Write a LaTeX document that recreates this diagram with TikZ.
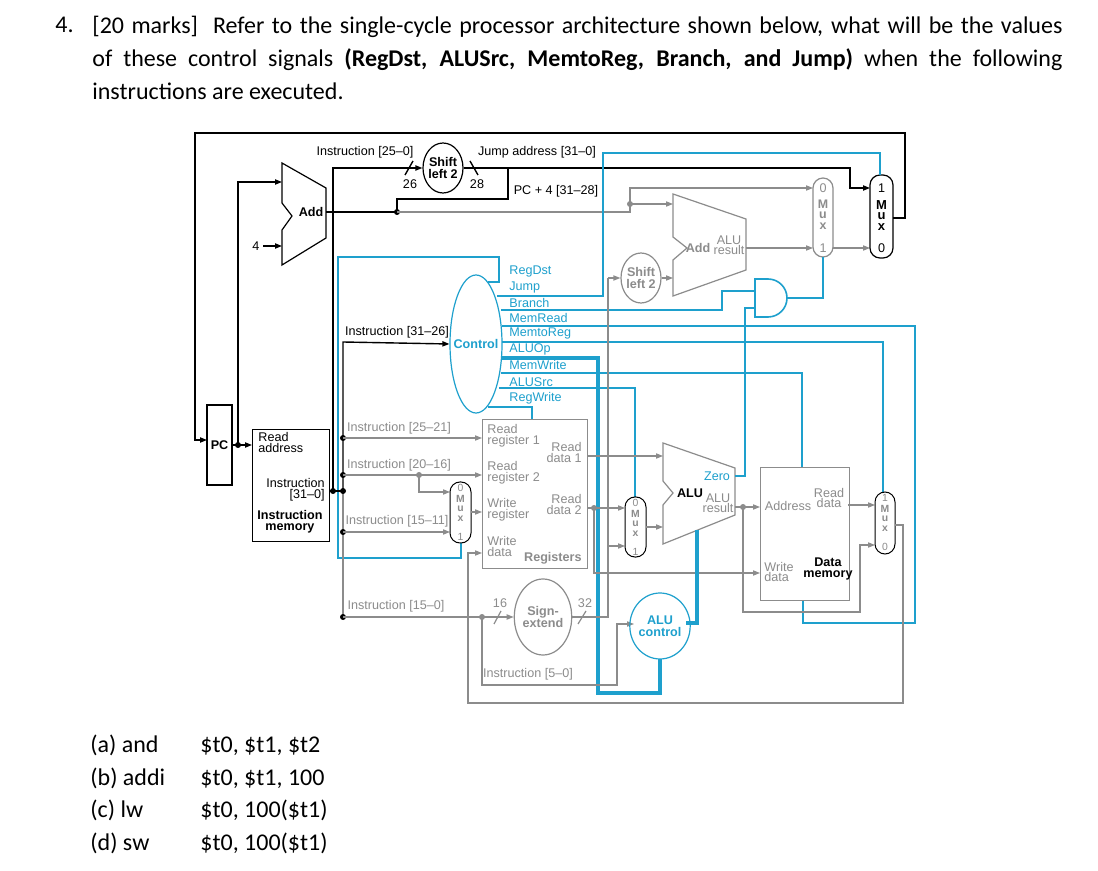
\documentclass[tikz,border=0pt]{standalone}
\usepackage{fontspec}
\setmainfont{Liberation Sans}
\newfontfamily\calib{Carlito}
\usetikzlibrary{arrows.meta,shapes.geometric}
\definecolor{cy}{RGB}{30,160,205}
\definecolor{gy}{RGB}{140,140,140}
\tikzset{
 every node/.style={inner sep=0pt,font=\fontsize{6.3}{7.2}\selectfont},
 ar/.style={-{Triangle[length=3.5pt,width=2.6pt]}},
 bk/.style={draw=black,line width=0.7pt},
 g/.style={draw=gy,line width=0.6pt},
 c/.style={draw=cy,line width=0.8pt},
 ct/.style={draw=cy,line width=1.6pt},
 dot/.style={circle,fill,minimum size=3pt},
 lg/.style={text=gy},
 lc/.style={text=cy},
 lb/.style={font=\fontsize{6.3}{7.2}\selectfont\bfseries},
 ms/.style={font=\fontsize{5.2}{5.5}\selectfont},
 mux/.style={rounded corners=5pt},
 q/.style={font=\calib\fontsize{12}{16.5}\selectfont,anchor=base west},
}
% mux letters: x, y top label, y of M, bottom y, top label, bottom label, style, step, letter size
\newcommand\muxtxt[9]{%
 \node[#7] at (#1,#2) {#5};
 \node[#7,font=\fontsize{#9}{#9}\selectfont\bfseries] at (#1,#3) {M};
 \node[#7,font=\fontsize{#9}{#9}\selectfont\bfseries] at (#1,#3+#8) {u};
 \node[#7,font=\fontsize{#9}{#9}\selectfont\bfseries] at (#1,#3+2*#8) {x};
 \node[#7] at (#1,#4) {#6};}
\begin{document}
\begin{tikzpicture}[x=0.5pt,y=-0.5pt]
\useasboundingbox[fill=white] (0,0) rectangle (1098,871);
% ---- question text
\node[q] (n4) at (55,33) {4.};
\node[q,text width=485pt,align=justify,anchor=north west] (qt) at (92,16)
 {[20 marks]\ \ Refer to the single-cycle processor architecture shown below, what will be the values\linebreak
 of these control signals \textbf{(RegDst, ALUSrc, MemtoReg, Branch, and Jump)} when the following\linebreak
 instructions are executed.};
\foreach \a/\b/\y in {(a) and/{\$t0, \$t1, \$t2}/752,(b) addi/{\$t0, \$t1, 100}/785,(c) lw/{\$t0, 100(\$t1)}/817,(d) sw/{\$t0, 100(\$t1)}/850}{
 \node[q] at (90,\y) {\a}; \node[q] at (200,\y) {\b};}
% ---- PC loop
\draw[bk,ar] (893,218) -- (905,218) -- (905,133) -- (195,133) -- (195,440) -- (207,440);
\node[draw=black,line width=0.6pt,minimum width=12.5pt,minimum height=40pt] (pc) at (219.5,445) {};
\node[lb] at (219.5,445) {PC};
\draw[bk,ar] (232,445) -- (252,445);
\draw[bk,ar] (238,445) -- (238,182) -- (282,182);
\node[dot] at (238,445) {};
% instruction memory
\node[draw=black,line width=0.6pt,minimum width=38.5pt,minimum height=56pt,anchor=north west] (im) at (252,429) {};
\node[anchor=north west,align=left] at (258,432) {Read\\[-1.5pt]address};
\node[anchor=north east,align=right] at (325,478) {Instruction\\[-1.5pt][31--0]};
\node[anchor=north,align=center,lb] at (290,510) {Instruction\\[-1.5pt]memory};
% add (PC+4)
\draw[bk,line width=0.6pt] (282,163)--(326,188)--(326,238)--(282,265)--(282,230)--(292,216)--(282,203)--cycle;
\node[lb] (add1) at (311,212) {Add};
\node (four) at (256,246) {4};
\draw[bk,ar] (263,246) -- (282,246);
\draw[bk] (326,212) -- (397,212);
\node[dot] at (397,212) {};
\draw[bk] (397,212) -- (397,199) -- (508,199) -- (508,168);
\draw[g] (397,212) -- (630,212) -- (630,204);
\node[dot,fill=gy] at (630,204) {};
\draw[g,ar] (630,204) -- (673,204);
\draw[g,ar] (630,204) -- (630,188) -- (813,188);
% top shift left 2
\node[ellipse,draw=black,line width=0.6pt,minimum width=20pt,minimum height=25pt,inner sep=-1pt,align=center,lb] (sl1) at (443,168) {Shift\\[-1pt]left 2};
\draw[bk,ar] (333,491) -- (333,168) -- (sl1.west);
\draw[bk,ar] (sl1.east) -- (850,168) -- (850,188) -- (870,188);
\draw[bk] (405,175)--(413,161) (470,161)--(478,175);
\node at (410,184) {26}; \node at (477,184) {28};
\node at (365,152) {Instruction [25--0]};
\node at (537,152) {Jump address [31--0]};
\node at (556,191) {PC + 4 [31--28]};
% branch adder
\draw[g] (673,194)--(746,219)--(746,270)--(673,296)--(673,260)--(687,248)--(673,237)--cycle;
\node[lb,text=gy] at (698,248) {Add};
\node[lg,align=center] at (729,245) {ALU\\[-2pt]result};
\draw[g,ar] (746,248) -- (813,248);
\node[ellipse,draw=gy,line width=0.6pt,minimum width=20pt,minimum height=25pt,inner sep=-1pt,align=center,lb,text=gy] (sl2) at (641,278) {Shift\\[-1pt]left 2};
\draw[g,ar] (sl2.east) -- (673,278);
% mux A (branch)
\draw[g,mux] (813,178) rectangle (833,257);
\muxtxt{823}{188}{204}{248}{0}{1}{lg}{11}{6.2}
\draw[g,ar] (833,248) -- (870,248);
% mux B (jump)
\draw[bk,mux,line width=0.6pt] (870,175) rectangle (893,258);
\muxtxt{881.5}{188}{205}{248}{1}{0}{}{11}{6.5}
% control
\node[ellipse,draw=cy,line width=0.6pt,minimum width=26pt,minimum height=69pt] (ctl) at (476,344) {};
\node[lb,lc] at (476,344) {Control};
\draw[bk,ar] (343,491) -- (343,342) -- (ctl.west);
\node at (397,332) {Instruction [31--26]};
\foreach \t/\y in {RegDst/271,Jump/287,Branch/303,MemRead/318,MemtoReg/333,ALUOp/349,MemWrite/365,ALUSrc/382,RegWrite/398}
 \node[lc,anchor=west] at (509,\y) {\t};
% control lines
\draw[c] (488,282) -- (499,282) -- (499,257) -- (338,257) -- (338,558) -- (461,558) -- (461,543);
\draw[c] (497,296) -- (603,296) -- (603,153) -- (880,153) -- (880,175);
\draw[c] (501,310) -- (722,310) -- (722,291) -- (755,291);
\draw[c] (502,326) -- (915,326) -- (915,623) -- (803,623) -- (803,600);
\draw[c] (502,342) -- (883,342) -- (883,493);
\draw[ct] (502,358) -- (598,358) -- (598,693) -- (660,693) -- (660,659);
\draw[c] (501,373) -- (802,373) -- (802,467);
\draw[c] (499,388) -- (635,388) -- (635,497);
\draw[c] (488,407) -- (532,407) -- (532,419);
% AND gate
\draw[c] (755,279) -- (768,279) arc[start angle=90,end angle=-90,radius=9.5pt] -- (755,317) -- cycle;
\draw[c] (787,298) -- (823,298) -- (823,257);
% registers
\node[draw=gy,line width=0.6pt,minimum width=52.5pt,minimum height=74.5pt,anchor=north west] (reg) at (482,419) {};
\node[lg,anchor=north west,align=left] at (487,424) {Read\\[-1.5pt]register 1};
\node[lg,anchor=north west,align=left] at (487,461) {Read\\[-1.5pt]register 2};
\node[lg,anchor=north west,align=left] at (487,498) {Write\\[-1.5pt]register};
\node[lg,anchor=north west,align=left] at (487,536) {Write\\[-1.5pt]data};
\node[lg,anchor=north east,align=right] at (582,442) {Read\\[-1.5pt]data 1};
\node[lg,anchor=north east,align=right] at (582,494) {Read\\[-1.5pt]data 2};
\node[lb,text=gy,anchor=north east] at (582,552) {Registers};
% instruction fields
\draw[g] (343,491) -- (343,617);
\foreach \y in {438,475,532,617} \node[dot] at (343,\y) {};
\node[dot] at (333,491) {}; \node[dot] at (343,491) {};
\draw[bk] (329,491) -- (343,491);
\draw[g,ar] (343,438) -- (482,438);
\draw[g,ar] (343,475) -- (482,475);
\draw[g,ar] (419,475) -- (419,492) -- (450,492);
\node[dot,fill=gy] at (419,475) {};
\draw[g,ar] (343,532) -- (450,532);
\node[lg] at (399,428) {Instruction [25--21]};
\node[lg] at (399,465) {Instruction [20--16]};
\node[lg] at (397,521) {Instruction [15--11]};
\node[lg] at (396,606) {Instruction [15--0]};
% mux D
\draw[bk,mux,line width=0.5pt] (450,482) rectangle (471,543);
\muxtxt{460.5}{488}{499}{537}{0}{1}{lg,ms}{10}{5.2}
\draw[g,ar] (471,512) -- (482,512);
% sign extend
\node[ellipse,draw=gy,line width=0.6pt,minimum width=24pt,minimum height=38pt,align=center,lb,text=gy] (se) at (543,617) {Sign-\\[-1pt]extend};
\draw[g,ar] (343,617) -- (se.west);
\node[dot,fill=gy] at (482,617) {};
\draw[g] (494,624)--(501,611) (578,624)--(586,611);
\node[lg] at (500,603) {16}; \node[lg] at (585,603) {32};
\draw[g] (se.east) -- (608,617) -- (608,278);
\draw[g,ar] (608,278) -- (sl2.west);
\draw[g,ar] (608,546) -- (625,546);
\draw[g,ar] (482,617) -- (482,685) -- (617,685) -- (617,624) -- (634,624);
\node[lg] at (528,674) {Instruction [5--0]};
% ALU src mux
\draw[bk,mux,line width=0.5pt] (625,497) rectangle (646,557);
\muxtxt{635.5}{503}{514}{552}{0}{1}{lg,ms}{10}{5.2}
\draw[g,ar] (587,456) -- (663,456);
\draw[g,ar] (587,508) -- (625,508);
\node[dot,fill=gy] at (594,508) {};
\draw[g,ar] (594,508) -- (594,573) -- (760,573);
\draw[g,ar] (646,527) -- (663,527);
% ALU
\draw[g] (663,443)--(735,468)--(735,515)--(663,544)--(663,505)--(673,493)--(663,481)--cycle;
\node[lb] at (690,493) {ALU};
\node[lc] at (717,476) {Zero};
\node[lg,align=center] at (718,503) {ALU\\[-2pt]result};
\draw[c] (735,476) -- (745,476) -- (745,308) -- (755,308);
\draw[g,ar] (735,507) -- (760,507);
\node[dot,fill=gy] at (743,507) {};
\draw[g,ar] (743,507) -- (743,612) -- (860,612) -- (860,545) -- (875,545);
% ALU control
\node[ellipse,draw=cy,line width=0.6pt,minimum width=26pt,minimum height=33pt,align=center,lb,lc] (aluc) at (660,626) {ALU\\[-1pt]control};
\draw[ct] (686,623) -- (697,623) -- (697,530);
% data memory
\node[draw=gy,line width=0.6pt,minimum width=44.5pt,minimum height=66.5pt,anchor=north west] (dm) at (760,467) {};
\node[lg] at (788,506) {Address};
\node[lg,align=center] at (829,498) {Read\\[-2pt]data};
\node[lg,align=left] at (779,572) {Write\\[-2pt]data};
\node[lb,align=center] at (828,569) {Data\\[-2pt]memory};
\draw[g,ar] (848,505) -- (875,505);
% mux C
\draw[bk,mux,line width=0.5pt] (875,492) rectangle (895,554);
\muxtxt{885}{498}{509}{547}{1}{0}{lg,ms}{10}{5.2}
\draw[g,ar] (895,525) -- (903,525) -- (903,703) -- (468,703) -- (468,553) -- (482,553);
\end{tikzpicture}
\end{document}
